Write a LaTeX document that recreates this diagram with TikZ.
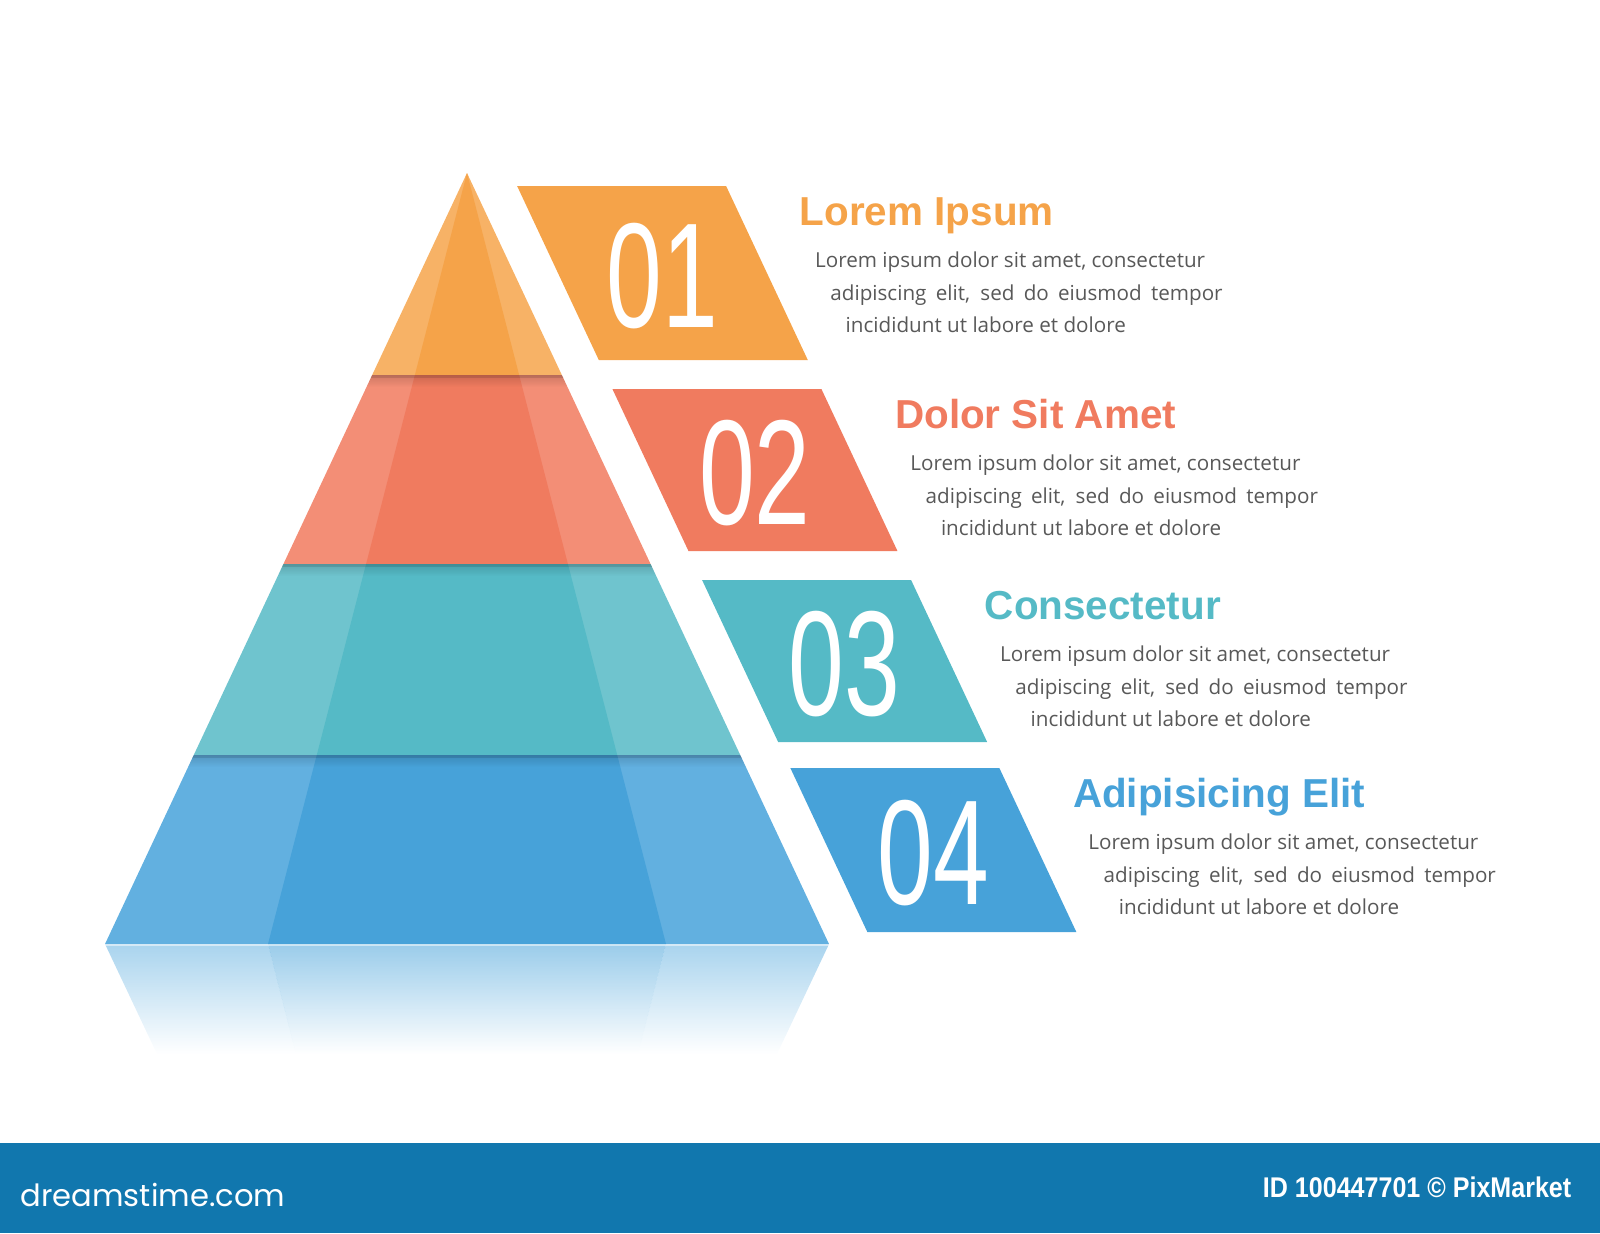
\documentclass[tikz,border=0pt]{standalone}
\usepackage{fontspec}
\setmainfont{Open Sans}
\newfontfamily\headfont{Liberation Sans}
\newfontfamily\numfont[FakeStretch=0.67]{Liberation Sans}
\newfontfamily\creditfont[FakeStretch=0.88]{Liberation Sans}
\newfontfamily\logofont{Poppins}
\usetikzlibrary{fadings}

\definecolor{tierA}{HTML}{F5A349}
\definecolor{tierAlite}{HTML}{F7B266}
\definecolor{tierB}{HTML}{F07B5F}
\definecolor{tierBlite}{HTML}{F38E76}
\definecolor{tierC}{HTML}{55BAC6}
\definecolor{tierClite}{HTML}{6FC4CE}
\definecolor{tierD}{HTML}{47A2D9}
\definecolor{tierDlite}{HTML}{62B0E0}
\definecolor{bodygray}{HTML}{585858}
\definecolor{barblue}{HTML}{1177AE}

\tikzfading[name=fadedown, top color=transparent!0, bottom color=transparent!100]

\tikzset{
  head/.style={anchor=base west, inner sep=0pt, font=\headfont\bfseries\fontsize{11.5}{13}\selectfont},
  body/.style={anchor=base west, inner sep=0pt, text=bodygray, font=\fontsize{5.87}{7}\selectfont},
  number/.style={inner sep=0pt, text=white, font=\numfont\fontsize{42.5}{43}\selectfont},
  shadowband/.style={black, opacity=0.15, path fading=fadedown},
  shadowline/.style={black, opacity=0.1},
  mirror/.style={opacity=0.55, path fading=fadedown},
}

\begin{document}
\begin{tikzpicture}[x=0.01cm, y=-0.01cm]
  \useasboundingbox (0,0) rectangle (1600,1233);

  % pyramid tiers
  \coordinate (apex) at (467,173);
  \foreach \col/\ytop/\ybot in {A/173/375, B/375/564, C/564/755, D/755/944}{
    \begin{scope}
      \clip ({467-0.4695*(\ytop-173)},\ytop) -- ({467+0.4695*(\ytop-173)},\ytop)
        -- ({467+0.4695*(\ybot-173)},\ybot) -- ({467-0.4695*(\ybot-173)},\ybot) -- cycle;
      \fill[tier\col lite] (100,\ytop) rectangle (840,\ybot);
      \fill[tier\col] (apex) -- (268,944) -- (666,944) -- cycle;
      \ifnum\ytop>173
        \fill[shadowband] (100,\ytop) rectangle (840,\ytop+12);
        \fill[shadowline] (100,\ytop) rectangle (840,\ytop+2.5);
      \fi
    \end{scope}
  }

  % reflection
  \fill[tierDlite, mirror] (105,944) -- (268,944) -- (296,1054) -- (157,1054) -- cycle;
  \fill[tierD, mirror] (268,944) -- (666,944) -- (638,1054) -- (296,1054) -- cycle;
  \fill[tierDlite, mirror] (666,944) -- (829,944) -- (777,1054) -- (638,1054) -- cycle;
  \draw[white, opacity=0.5, line width=0.015cm] (105,945) -- (829,945);

  % banners
  \foreach \col/\ytop/\ybot/\n [count=\i] in {A/186/360/01, B/389/551/02, C/580/742/03, D/768/932/04}{
    \fill[tier\col] ({511+0.4695*(\ytop-173)},\ytop) -- ({720+0.4695*(\ytop-173)},\ytop)
      -- ({720+0.4695*(\ybot-173)},\ybot) -- ({511+0.4695*(\ybot-173)},\ybot) -- cycle;
    \node[number] (num\i) at ({615.5+0.4695*((\ytop+\ybot)/2-173)},{(\ytop+\ybot)/2+3}) {\n};
  }

  % texts
  \foreach \col/\ytop/\heading [count=\i] in {A/186/Lorem Ipsum, B/389/Dolor Sit Amet, C/580/Consectetur, D/768/Adipisicing Elit}{
    \pgfmathsetmacro\xh{793+0.4695*(\ytop-173)}
    \node[head, text=tier\col] (head\i) at (\xh,\ytop+39) {\heading};
    \node[body] (lineA\i) at (\xh+15.3,\ytop+81) {Lorem ipsum dolor sit amet, consectetur};
    \node[body] (lineB\i) at (\xh+30.6,\ytop+114) {\makebox[3.92cm][s]{adipiscing elit, sed do eiusmod tempor}};
    \node[body] (lineC\i) at (\xh+45.9,\ytop+146) {incididunt ut labore et dolore};
  }

  % bottom bar
  \fill[barblue] (0,1143) rectangle (1600,1233);
  \node[anchor=base west, inner sep=0pt, text=white, font=\logofont\fontsize{8.7}{10}\selectfont] (logo) at (20,1206) {dreamstime.com};
  \node[anchor=base east, inner sep=0pt, text=white, font=\creditfont\bfseries\fontsize{8.1}{9}\selectfont] (credit) at (1572,1197) {ID 100447701 © PixMarket};
\end{tikzpicture}
\end{document}
